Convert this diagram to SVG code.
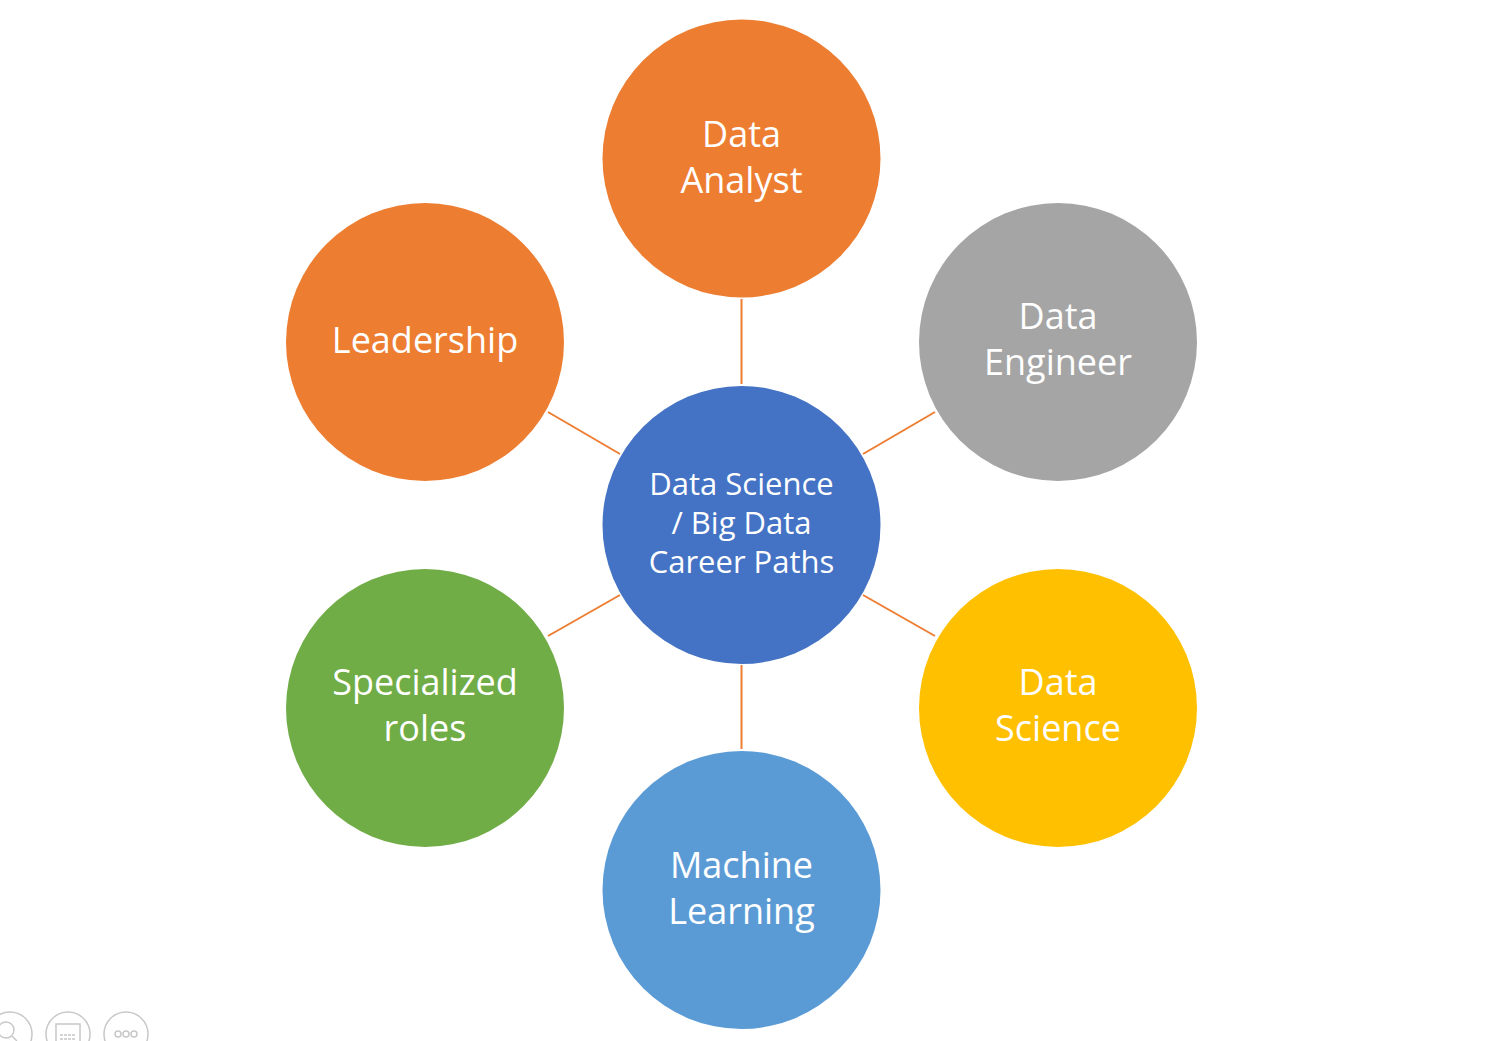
<svg xmlns="http://www.w3.org/2000/svg" width="1497" height="1041" viewBox="0 0 1497 1041">
<style>
.lbl{font-family:"Open Sans","Noto Sans",Lato,"Liberation Sans",sans-serif;fill:#fff;text-anchor:middle}
.big{font-size:36px}
.mid{font-size:31px}
.con line{stroke:#ED7D31;stroke-width:2}
.ic{fill:none;stroke:#c8c8c8;stroke-width:1.5}
</style>
<rect width="1497" height="1041" fill="#fff"/>
<g id="connectors" class="con">
<line x1="741.5" y1="299" x2="741.5" y2="384"/>
<line x1="741.5" y1="665" x2="741.5" y2="749"/>
<line x1="548" y1="412" x2="620" y2="454"/>
<line x1="863" y1="454" x2="935" y2="412"/>
<line x1="548" y1="636" x2="620" y2="595"/>
<line x1="863" y1="595" x2="935" y2="636"/>
</g>
<g id="center"><circle cx="741.5" cy="525" r="139" fill="#4472C4"/>
<text class="lbl mid" x="741.5" y="495">Data Science</text>
<text class="lbl mid" x="741.5" y="534">/ Big Data</text>
<text class="lbl mid" x="741.5" y="573">Career Paths</text></g>
<g id="data-analyst"><circle cx="741.5" cy="158.5" r="139" fill="#ED7D31"/>
<text class="lbl big" x="741.5" y="147">Data</text>
<text class="lbl big" x="741.5" y="193">Analyst</text></g>
<g id="leadership"><circle cx="425" cy="342" r="139" fill="#ED7D31"/>
<text class="lbl big" x="425" y="353">Leadership</text></g>
<g id="data-engineer"><circle cx="1058" cy="342" r="139" fill="#A5A5A5"/>
<text class="lbl big" x="1058" y="329">Data</text>
<text class="lbl big" x="1058" y="375">Engineer</text></g>
<g id="specialized"><circle cx="425" cy="708" r="139" fill="#70AD47"/>
<text class="lbl big" x="425" y="695">Specialized</text>
<text class="lbl big" x="425" y="741">roles</text></g>
<g id="data-science"><circle cx="1058" cy="708" r="139" fill="#FFC000"/>
<text class="lbl big" x="1058" y="695">Data</text>
<text class="lbl big" x="1058" y="741">Science</text></g>
<g id="machine-learning"><circle cx="741.5" cy="890" r="139" fill="#5B9BD5"/>
<text class="lbl big" x="741.5" y="878">Machine</text>
<text class="lbl big" x="741.5" y="924">Learning</text></g>
<g id="toolbar">
<circle class="ic" cx="10" cy="1034" r="22"/>
<circle class="ic" cx="6" cy="1030" r="8"/>
<line class="ic" x1="12" y1="1036" x2="17" y2="1041"/>
<circle class="ic" cx="68" cy="1034" r="22"/>
<rect class="ic" x="56" y="1024" width="24" height="20"/>
<line class="ic" x1="60" y1="1035" x2="76" y2="1035" stroke-dasharray="3,1"/>
<line class="ic" x1="60" y1="1039" x2="76" y2="1039" stroke-dasharray="3,1"/>
<circle class="ic" cx="126" cy="1034" r="22"/>
<circle class="ic" cx="118" cy="1034" r="3"/>
<circle class="ic" cx="126" cy="1034" r="3"/>
<circle class="ic" cx="134" cy="1034" r="3"/>
</g>
</svg>
